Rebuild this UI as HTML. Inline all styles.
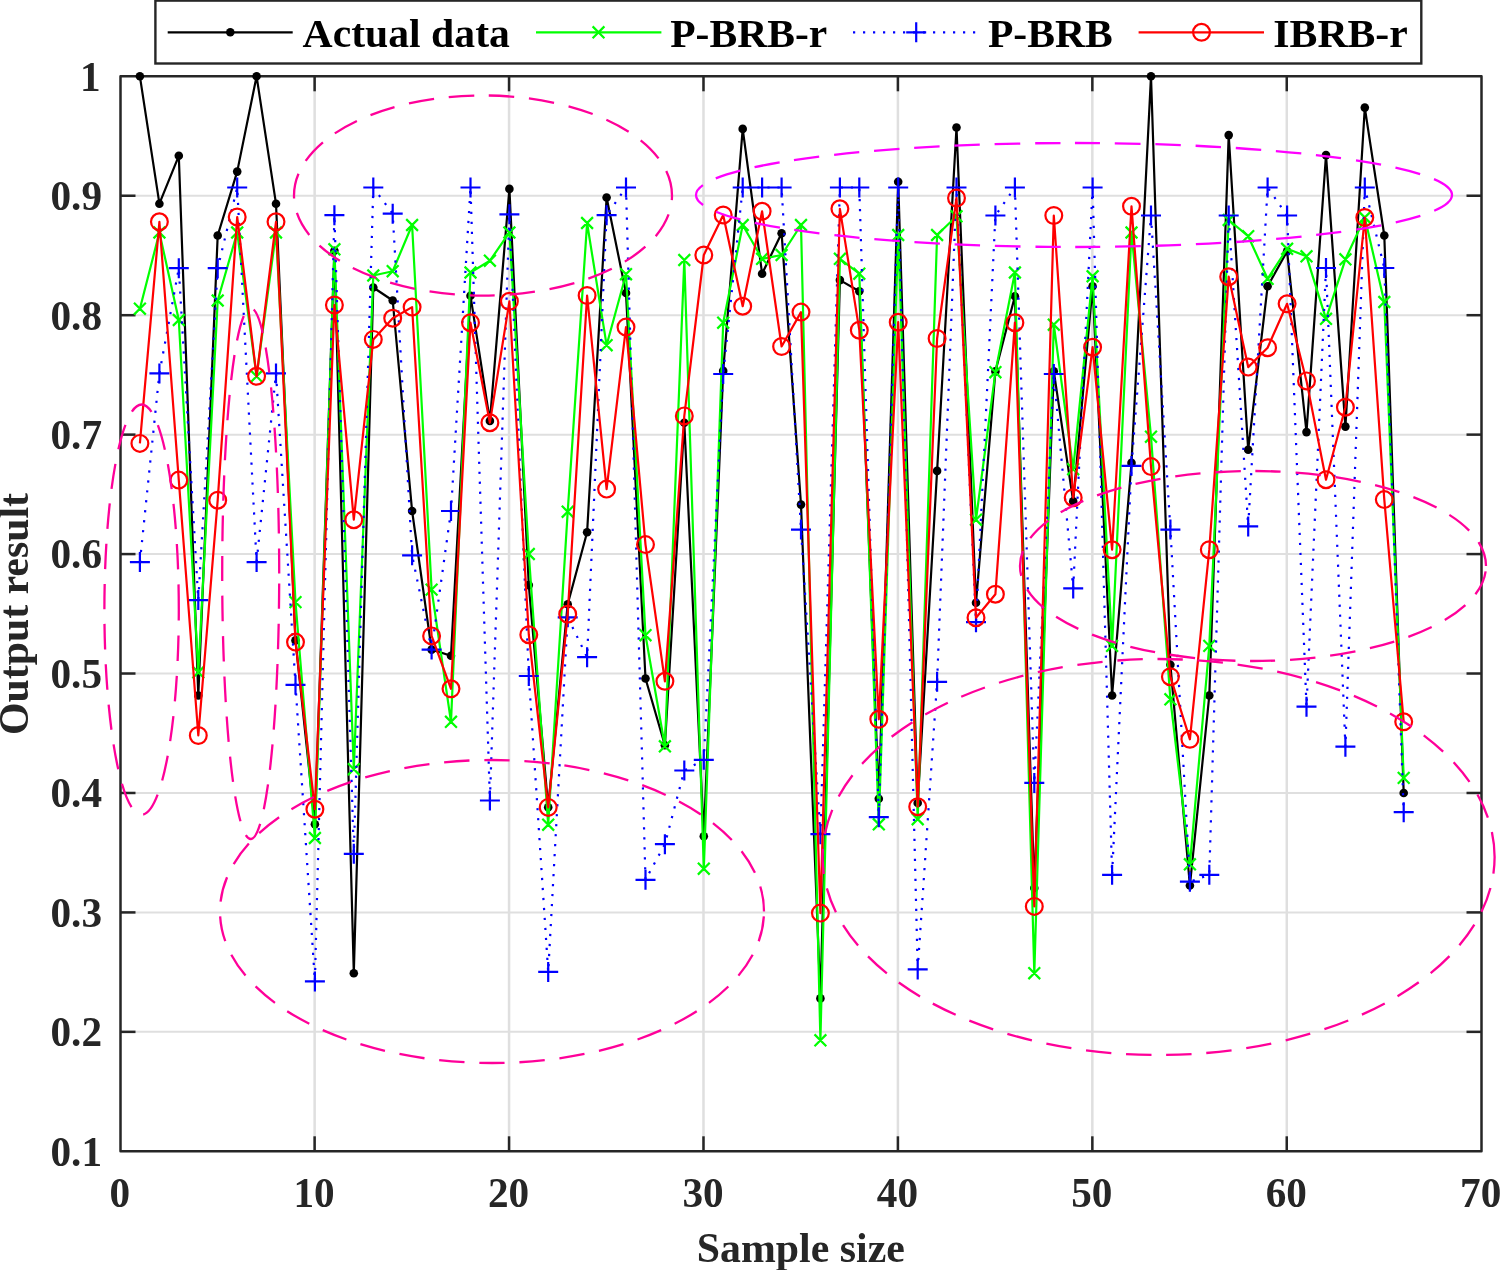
<!DOCTYPE html>
<html lang="en"><head><meta charset="utf-8"><title>Output result vs sample size</title>
<style>html,body{margin:0;padding:0;background:#fff;}body{width:1500px;height:1270px;overflow:hidden;}svg{display:block;}text{font-family:"Liberation Serif",serif;font-weight:bold;}.ax{fill:#262626;font-size:41.2px;}.lg{fill:#000;font-size:40.3px;}</style></head><body>
<svg width="1500" height="1270" viewBox="0 0 1500 1270">
<rect x="0" y="0" width="1500" height="1270" fill="#fff"/>
<g stroke="#dfdfdf" stroke-width="2" fill="none">
<line x1="314.63" y1="76.3" x2="314.63" y2="1151.3" stroke-width="2.5"/>
<line x1="509.06" y1="76.3" x2="509.06" y2="1151.3" stroke-width="2.5"/>
<line x1="703.49" y1="76.3" x2="703.49" y2="1151.3" stroke-width="2.5"/>
<line x1="897.91" y1="76.3" x2="897.91" y2="1151.3" stroke-width="2.5"/>
<line x1="1092.34" y1="76.3" x2="1092.34" y2="1151.3" stroke-width="2.5"/>
<line x1="1286.77" y1="76.3" x2="1286.77" y2="1151.3" stroke-width="2.5"/>
<line x1="120.5" y1="1031.86" x2="1481.5" y2="1031.86"/>
<line x1="120.5" y1="912.41" x2="1481.5" y2="912.41"/>
<line x1="120.5" y1="792.97" x2="1481.5" y2="792.97"/>
<line x1="120.5" y1="673.52" x2="1481.5" y2="673.52"/>
<line x1="120.5" y1="554.08" x2="1481.5" y2="554.08"/>
<line x1="120.5" y1="434.63" x2="1481.5" y2="434.63"/>
<line x1="120.5" y1="315.19" x2="1481.5" y2="315.19"/>
<line x1="120.5" y1="195.74" x2="1481.5" y2="195.74"/>
</g>
<g stroke="#262626" stroke-width="2.5" fill="none" stroke-linejoin="round">
<rect x="120.5" y="76.3" width="1361.0" height="1075.0"/>
<line x1="314.63" y1="1151.3" x2="314.63" y2="1136.3"/>
<line x1="314.63" y1="76.3" x2="314.63" y2="91.3"/>
<line x1="509.06" y1="1151.3" x2="509.06" y2="1136.3"/>
<line x1="509.06" y1="76.3" x2="509.06" y2="91.3"/>
<line x1="703.49" y1="1151.3" x2="703.49" y2="1136.3"/>
<line x1="703.49" y1="76.3" x2="703.49" y2="91.3"/>
<line x1="897.91" y1="1151.3" x2="897.91" y2="1136.3"/>
<line x1="897.91" y1="76.3" x2="897.91" y2="91.3"/>
<line x1="1092.34" y1="1151.3" x2="1092.34" y2="1136.3"/>
<line x1="1092.34" y1="76.3" x2="1092.34" y2="91.3"/>
<line x1="1286.77" y1="1151.3" x2="1286.77" y2="1136.3"/>
<line x1="1286.77" y1="76.3" x2="1286.77" y2="91.3"/>
<line x1="120.5" y1="1031.86" x2="135.5" y2="1031.86"/>
<line x1="1481.5" y1="1031.86" x2="1466.5" y2="1031.86"/>
<line x1="120.5" y1="912.41" x2="135.5" y2="912.41"/>
<line x1="1481.5" y1="912.41" x2="1466.5" y2="912.41"/>
<line x1="120.5" y1="792.97" x2="135.5" y2="792.97"/>
<line x1="1481.5" y1="792.97" x2="1466.5" y2="792.97"/>
<line x1="120.5" y1="673.52" x2="135.5" y2="673.52"/>
<line x1="1481.5" y1="673.52" x2="1466.5" y2="673.52"/>
<line x1="120.5" y1="554.08" x2="135.5" y2="554.08"/>
<line x1="1481.5" y1="554.08" x2="1466.5" y2="554.08"/>
<line x1="120.5" y1="434.63" x2="135.5" y2="434.63"/>
<line x1="1481.5" y1="434.63" x2="1466.5" y2="434.63"/>
<line x1="120.5" y1="315.19" x2="135.5" y2="315.19"/>
<line x1="1481.5" y1="315.19" x2="1466.5" y2="315.19"/>
<line x1="120.5" y1="195.74" x2="135.5" y2="195.74"/>
<line x1="1481.5" y1="195.74" x2="1466.5" y2="195.74"/>
</g>
<g class="ax">
<text x="119.7" y="1206.8" text-anchor="middle">0</text>
<text x="314.1" y="1206.8" text-anchor="middle">10</text>
<text x="508.6" y="1206.8" text-anchor="middle">20</text>
<text x="703.0" y="1206.8" text-anchor="middle">30</text>
<text x="897.4" y="1206.8" text-anchor="middle">40</text>
<text x="1091.8" y="1206.8" text-anchor="middle">50</text>
<text x="1286.3" y="1206.8" text-anchor="middle">60</text>
<text x="1480.7" y="1206.8" text-anchor="middle">70</text>
<text x="102" y="1165.6" text-anchor="end">0.1</text>
<text x="102" y="1046.2" text-anchor="end">0.2</text>
<text x="102" y="926.7" text-anchor="end">0.3</text>
<text x="102" y="807.3" text-anchor="end">0.4</text>
<text x="102" y="687.8" text-anchor="end">0.5</text>
<text x="102" y="568.4" text-anchor="end">0.6</text>
<text x="102" y="448.9" text-anchor="end">0.7</text>
<text x="102" y="329.5" text-anchor="end">0.8</text>
<text x="102" y="210.0" text-anchor="end">0.9</text>
<text x="100.6" y="90.6" text-anchor="end">1</text>
<text x="696.8" y="1261.5" textLength="208" lengthAdjust="spacingAndGlyphs">Sample size</text>
<text transform="translate(27.8,735) rotate(-90)" textLength="242" lengthAdjust="spacingAndGlyphs">Output result</text>
</g>
<g stroke="#000" stroke-width="2.2" fill="none" stroke-linejoin="round">
<polyline points="139.9,76.3 159.4,203.7 178.8,155.8 198.3,695.5 217.7,235.5 237.2,171.6 256.6,76.3 276.0,203.7 295.5,640.4 314.9,824.3 334.4,250.7 353.8,973.2 373.3,287.5 392.7,300.5 412.1,511.0 431.6,649.6 451.0,655.8 470.5,295.8 489.9,420.9 509.4,188.9 528.8,585.1 548.2,807.3 567.7,604.2 587.1,532.2 606.6,197.5 626.0,293.0 645.5,678.5 664.9,745.2 684.3,422.7 703.8,836.2 723.2,370.9 742.7,128.9 762.1,273.7 781.6,233.2 801.0,504.6 820.4,998.4 839.9,280.1 859.3,291.3 878.8,798.7 898.2,181.8 917.7,803.0 937.1,470.9 956.5,127.5 976.0,602.7 995.4,371.4 1014.9,296.3 1034.3,888.0 1053.8,371.3 1073.2,501.4 1092.6,286.3 1112.1,695.5 1131.5,462.9 1151.0,76.3 1170.4,664.8 1189.9,885.5 1209.3,695.5 1228.7,135.1 1248.2,449.7 1267.6,286.3 1287.1,251.3 1306.5,432.1 1326.0,155.1 1345.4,426.6 1364.8,107.6 1384.3,235.5 1403.7,793.0"/>
</g><g fill="#000">
<circle cx="139.9" cy="76.3" r="4.3"/>
<circle cx="159.4" cy="203.7" r="4.3"/>
<circle cx="178.8" cy="155.8" r="4.3"/>
<circle cx="198.3" cy="695.5" r="4.3"/>
<circle cx="217.7" cy="235.5" r="4.3"/>
<circle cx="237.2" cy="171.6" r="4.3"/>
<circle cx="256.6" cy="76.3" r="4.3"/>
<circle cx="276.0" cy="203.7" r="4.3"/>
<circle cx="295.5" cy="640.4" r="4.3"/>
<circle cx="314.9" cy="824.3" r="4.3"/>
<circle cx="334.4" cy="250.7" r="4.3"/>
<circle cx="353.8" cy="973.2" r="4.3"/>
<circle cx="373.3" cy="287.5" r="4.3"/>
<circle cx="392.7" cy="300.5" r="4.3"/>
<circle cx="412.1" cy="511.0" r="4.3"/>
<circle cx="431.6" cy="649.6" r="4.3"/>
<circle cx="451.0" cy="655.8" r="4.3"/>
<circle cx="470.5" cy="295.8" r="4.3"/>
<circle cx="489.9" cy="420.9" r="4.3"/>
<circle cx="509.4" cy="188.9" r="4.3"/>
<circle cx="528.8" cy="585.1" r="4.3"/>
<circle cx="548.2" cy="807.3" r="4.3"/>
<circle cx="567.7" cy="604.2" r="4.3"/>
<circle cx="587.1" cy="532.2" r="4.3"/>
<circle cx="606.6" cy="197.5" r="4.3"/>
<circle cx="626.0" cy="293.0" r="4.3"/>
<circle cx="645.5" cy="678.5" r="4.3"/>
<circle cx="664.9" cy="745.2" r="4.3"/>
<circle cx="684.3" cy="422.7" r="4.3"/>
<circle cx="703.8" cy="836.2" r="4.3"/>
<circle cx="723.2" cy="370.9" r="4.3"/>
<circle cx="742.7" cy="128.9" r="4.3"/>
<circle cx="762.1" cy="273.7" r="4.3"/>
<circle cx="781.6" cy="233.2" r="4.3"/>
<circle cx="801.0" cy="504.6" r="4.3"/>
<circle cx="820.4" cy="998.4" r="4.3"/>
<circle cx="839.9" cy="280.1" r="4.3"/>
<circle cx="859.3" cy="291.3" r="4.3"/>
<circle cx="878.8" cy="798.7" r="4.3"/>
<circle cx="898.2" cy="181.8" r="4.3"/>
<circle cx="917.7" cy="803.0" r="4.3"/>
<circle cx="937.1" cy="470.9" r="4.3"/>
<circle cx="956.5" cy="127.5" r="4.3"/>
<circle cx="976.0" cy="602.7" r="4.3"/>
<circle cx="995.4" cy="371.4" r="4.3"/>
<circle cx="1014.9" cy="296.3" r="4.3"/>
<circle cx="1034.3" cy="888.0" r="4.3"/>
<circle cx="1053.8" cy="371.3" r="4.3"/>
<circle cx="1073.2" cy="501.4" r="4.3"/>
<circle cx="1092.6" cy="286.3" r="4.3"/>
<circle cx="1112.1" cy="695.5" r="4.3"/>
<circle cx="1131.5" cy="462.9" r="4.3"/>
<circle cx="1151.0" cy="76.3" r="4.3"/>
<circle cx="1170.4" cy="664.8" r="4.3"/>
<circle cx="1189.9" cy="885.5" r="4.3"/>
<circle cx="1209.3" cy="695.5" r="4.3"/>
<circle cx="1228.7" cy="135.1" r="4.3"/>
<circle cx="1248.2" cy="449.7" r="4.3"/>
<circle cx="1267.6" cy="286.3" r="4.3"/>
<circle cx="1287.1" cy="251.3" r="4.3"/>
<circle cx="1306.5" cy="432.1" r="4.3"/>
<circle cx="1326.0" cy="155.1" r="4.3"/>
<circle cx="1345.4" cy="426.6" r="4.3"/>
<circle cx="1364.8" cy="107.6" r="4.3"/>
<circle cx="1384.3" cy="235.5" r="4.3"/>
<circle cx="1403.7" cy="793.0" r="4.3"/>
</g>
<g stroke="#00ff00" stroke-width="2.2" fill="none" stroke-linejoin="round">
<polyline points="139.9,308.7 159.4,232.5 178.8,320.0 198.3,672.3 217.7,300.5 237.2,232.5 256.6,376.3 276.0,232.5 295.5,602.1 314.9,838.0 334.4,249.3 353.8,769.2 373.3,275.5 392.7,271.2 412.1,225.0 431.6,589.6 451.0,721.8 470.5,272.5 489.9,260.7 509.4,232.5 528.8,554.0 548.2,824.7 567.7,511.7 587.1,223.0 606.6,345.2 626.0,274.2 645.5,635.2 664.9,746.3 684.3,260.0 703.8,868.7 723.2,322.7 742.7,225.0 762.1,258.8 781.6,255.0 801.0,225.0 820.4,1040.3 839.9,258.8 859.3,273.7 878.8,824.3 898.2,235.0 917.7,819.2 937.1,235.0 956.5,216.3 976.0,519.7 995.4,372.2 1014.9,272.5 1034.3,973.2 1053.8,324.7 1073.2,469.2 1092.6,276.2 1112.1,645.9 1131.5,232.5 1151.0,436.7 1170.4,699.3 1189.9,864.3 1209.3,645.9 1228.7,220.0 1248.2,236.2 1267.6,278.8 1287.1,248.8 1306.5,256.3 1326.0,318.8 1345.4,259.3 1364.8,217.5 1384.3,302.0 1403.7,777.9"/>
<path d="M134.0 302.8L145.8 314.6M134.0 314.6L145.8 302.8M153.5 226.6L165.3 238.4M153.5 238.4L165.3 226.6M172.9 314.1L184.7 325.9M172.9 325.9L184.7 314.1M192.4 666.4L204.2 678.2M192.4 678.2L204.2 666.4M211.8 294.6L223.6 306.4M211.8 306.4L223.6 294.6M231.3 226.6L243.1 238.4M231.3 238.4L243.1 226.6M250.7 370.4L262.5 382.2M250.7 382.2L262.5 370.4M270.1 226.6L281.9 238.4M270.1 238.4L281.9 226.6M289.6 596.2L301.4 608.0M289.6 608.0L301.4 596.2M309.0 832.1L320.8 843.9M309.0 843.9L320.8 832.1M328.5 243.4L340.3 255.2M328.5 255.2L340.3 243.4M347.9 763.3L359.7 775.1M347.9 775.1L359.7 763.3M367.4 269.6L379.2 281.4M367.4 281.4L379.2 269.6M386.8 265.3L398.6 277.1M386.8 277.1L398.6 265.3M406.2 219.1L418.0 230.9M406.2 230.9L418.0 219.1M425.7 583.7L437.5 595.5M425.7 595.5L437.5 583.7M445.1 715.9L456.9 727.7M445.1 727.7L456.9 715.9M464.6 266.6L476.4 278.4M464.6 278.4L476.4 266.6M484.0 254.8L495.8 266.6M484.0 266.6L495.8 254.8M503.5 226.6L515.3 238.4M503.5 238.4L515.3 226.6M522.9 548.1L534.7 559.9M522.9 559.9L534.7 548.1M542.3 818.8L554.1 830.6M542.3 830.6L554.1 818.8M561.8 505.8L573.6 517.6M561.8 517.6L573.6 505.8M581.2 217.1L593.0 228.9M581.2 228.9L593.0 217.1M600.7 339.3L612.5 351.1M600.7 351.1L612.5 339.3M620.1 268.3L631.9 280.1M620.1 280.1L631.9 268.3M639.6 629.3L651.4 641.1M639.6 641.1L651.4 629.3M659.0 740.4L670.8 752.2M659.0 752.2L670.8 740.4M678.4 254.1L690.2 265.9M678.4 265.9L690.2 254.1M697.9 862.8L709.7 874.6M697.9 874.6L709.7 862.8M717.3 316.8L729.1 328.6M717.3 328.6L729.1 316.8M736.8 219.1L748.6 230.9M736.8 230.9L748.6 219.1M756.2 252.9L768.0 264.7M756.2 264.7L768.0 252.9M775.7 249.1L787.5 260.9M775.7 260.9L787.5 249.1M795.1 219.1L806.9 230.9M795.1 230.9L806.9 219.1M814.5 1034.4L826.3 1046.2M814.5 1046.2L826.3 1034.4M834.0 252.9L845.8 264.7M834.0 264.7L845.8 252.9M853.4 267.8L865.2 279.6M853.4 279.6L865.2 267.8M872.9 818.4L884.7 830.2M872.9 830.2L884.7 818.4M892.3 229.1L904.1 240.9M892.3 240.9L904.1 229.1M911.8 813.3L923.6 825.1M911.8 825.1L923.6 813.3M931.2 229.1L943.0 240.9M931.2 240.9L943.0 229.1M950.6 210.4L962.4 222.2M950.6 222.2L962.4 210.4M970.1 513.8L981.9 525.6M970.1 525.6L981.9 513.8M989.5 366.3L1001.3 378.1M989.5 378.1L1001.3 366.3M1009.0 266.6L1020.8 278.4M1009.0 278.4L1020.8 266.6M1028.4 967.3L1040.2 979.1M1028.4 979.1L1040.2 967.3M1047.9 318.8L1059.7 330.6M1047.9 330.6L1059.7 318.8M1067.3 463.3L1079.1 475.1M1067.3 475.1L1079.1 463.3M1086.7 270.4L1098.5 282.1M1086.7 282.1L1098.5 270.4M1106.2 640.0L1118.0 651.8M1106.2 651.8L1118.0 640.0M1125.6 226.6L1137.4 238.4M1125.6 238.4L1137.4 226.6M1145.1 430.8L1156.9 442.6M1145.1 442.6L1156.9 430.8M1164.5 693.4L1176.3 705.2M1164.5 705.2L1176.3 693.4M1184.0 858.4L1195.8 870.2M1184.0 870.2L1195.8 858.4M1203.4 640.0L1215.2 651.8M1203.4 651.8L1215.2 640.0M1222.8 214.1L1234.6 225.9M1222.8 225.9L1234.6 214.1M1242.3 230.3L1254.1 242.1M1242.3 242.1L1254.1 230.3M1261.7 272.9L1273.5 284.7M1261.7 284.7L1273.5 272.9M1281.2 242.9L1293.0 254.7M1281.2 254.7L1293.0 242.9M1300.6 250.4L1312.4 262.2M1300.6 262.2L1312.4 250.4M1320.1 312.9L1331.9 324.7M1320.1 324.7L1331.9 312.9M1339.5 253.4L1351.3 265.2M1339.5 265.2L1351.3 253.4M1358.9 211.6L1370.7 223.4M1358.9 223.4L1370.7 211.6M1378.4 296.1L1390.2 307.9M1378.4 307.9L1390.2 296.1M1397.8 772.0L1409.6 783.8M1397.8 783.8L1409.6 772.0"/>
</g>
<g stroke="#0000ff" stroke-width="2.2" fill="none" stroke-linejoin="round">
<polyline points="139.9,562.1 159.4,373.4 178.8,268.2 198.3,600.1 217.7,268.2 237.2,187.5 256.6,562.1 276.0,373.4 295.5,684.8 314.9,981.4 334.4,215.2 353.8,853.8 373.3,187.5 392.7,213.7 412.1,555.3 431.6,649.6 451.0,511.0 470.5,187.5 489.9,800.5 509.4,214.3 528.8,676.0 548.2,971.9 567.7,617.3 587.1,657.2 606.6,215.2 626.0,187.5 645.5,879.8 664.9,844.2 684.3,770.5 703.8,759.8 723.2,374.0 742.7,187.5 762.1,187.5 781.6,187.5 801.0,529.6 820.4,834.2 839.9,187.5 859.3,187.5 878.8,817.2 898.2,187.5 917.7,969.4 937.1,681.8 956.5,187.5 976.0,622.2 995.4,215.5 1014.9,187.5 1034.3,782.9 1053.8,374.0 1073.2,588.4 1092.6,187.5 1112.1,874.8 1131.5,465.9 1151.0,215.5 1170.4,529.6 1189.9,881.7 1209.3,874.8 1228.7,215.5 1248.2,526.4 1267.6,187.5 1287.1,215.5 1306.5,706.7 1326.0,268.0 1345.4,746.7 1364.8,187.5 1384.3,268.0 1403.7,812.2" stroke-dasharray="2.2 7.8"/>
<path d="M129.9 562.1H149.9M139.9 552.1V572.1M149.4 373.4H169.4M159.4 363.4V383.4M168.8 268.2H188.8M178.8 258.2V278.2M188.3 600.1H208.3M198.3 590.1V610.1M207.7 268.2H227.7M217.7 258.2V278.2M227.2 187.5H247.2M237.2 177.5V197.5M246.6 562.1H266.6M256.6 552.1V572.1M266.0 373.4H286.0M276.0 363.4V383.4M285.5 684.8H305.5M295.5 674.8V694.8M304.9 981.4H324.9M314.9 971.4V991.4M324.4 215.2H344.4M334.4 205.2V225.2M343.8 853.8H363.8M353.8 843.8V863.8M363.3 187.5H383.3M373.3 177.5V197.5M382.7 213.7H402.7M392.7 203.7V223.7M402.1 555.3H422.1M412.1 545.3V565.3M421.6 649.6H441.6M431.6 639.6V659.6M441.0 511.0H461.0M451.0 501.0V521.0M460.5 187.5H480.5M470.5 177.5V197.5M479.9 800.5H499.9M489.9 790.5V810.5M499.4 214.3H519.4M509.4 204.3V224.3M518.8 676.0H538.8M528.8 666.0V686.0M538.2 971.9H558.2M548.2 961.9V981.9M557.7 617.3H577.7M567.7 607.3V627.3M577.1 657.2H597.1M587.1 647.2V667.2M596.6 215.2H616.6M606.6 205.2V225.2M616.0 187.5H636.0M626.0 177.5V197.5M635.5 879.8H655.5M645.5 869.8V889.8M654.9 844.2H674.9M664.9 834.2V854.2M674.3 770.5H694.3M684.3 760.5V780.5M693.8 759.8H713.8M703.8 749.8V769.8M713.2 374.0H733.2M723.2 364.0V384.0M732.7 187.5H752.7M742.7 177.5V197.5M752.1 187.5H772.1M762.1 177.5V197.5M771.6 187.5H791.6M781.6 177.5V197.5M791.0 529.6H811.0M801.0 519.6V539.6M810.4 834.2H830.4M820.4 824.2V844.2M829.9 187.5H849.9M839.9 177.5V197.5M849.3 187.5H869.3M859.3 177.5V197.5M868.8 817.2H888.8M878.8 807.2V827.2M888.2 187.5H908.2M898.2 177.5V197.5M907.7 969.4H927.7M917.7 959.4V979.4M927.1 681.8H947.1M937.1 671.8V691.8M946.5 187.5H966.5M956.5 177.5V197.5M966.0 622.2H986.0M976.0 612.2V632.2M985.4 215.5H1005.4M995.4 205.5V225.5M1004.9 187.5H1024.9M1014.9 177.5V197.5M1024.3 782.9H1044.3M1034.3 772.9V792.9M1043.8 374.0H1063.8M1053.8 364.0V384.0M1063.2 588.4H1083.2M1073.2 578.4V598.4M1082.6 187.5H1102.6M1092.6 177.5V197.5M1102.1 874.8H1122.1M1112.1 864.8V884.8M1121.5 465.9H1141.5M1131.5 455.9V475.9M1141.0 215.5H1161.0M1151.0 205.5V225.5M1160.4 529.6H1180.4M1170.4 519.6V539.6M1179.9 881.7H1199.9M1189.9 871.7V891.7M1199.3 874.8H1219.3M1209.3 864.8V884.8M1218.7 215.5H1238.7M1228.7 205.5V225.5M1238.2 526.4H1258.2M1248.2 516.4V536.4M1257.6 187.5H1277.6M1267.6 177.5V197.5M1277.1 215.5H1297.1M1287.1 205.5V225.5M1296.5 706.7H1316.5M1306.5 696.7V716.7M1316.0 268.0H1336.0M1326.0 258.0V278.0M1335.4 746.7H1355.4M1345.4 736.7V756.7M1354.8 187.5H1374.8M1364.8 177.5V197.5M1374.3 268.0H1394.3M1384.3 258.0V278.0M1393.7 812.2H1413.7M1403.7 802.2V822.2"/>
</g>
<g stroke="#ff0000" stroke-width="2.2" fill="none" stroke-linejoin="round">
<polyline points="139.9,443.4 159.4,221.8 178.8,480.1 198.3,735.5 217.7,500.2 237.2,217.0 256.6,376.3 276.0,221.8 295.5,642.1 314.9,809.2 334.4,305.0 353.8,519.7 373.3,339.4 392.7,318.2 412.1,307.1 431.6,635.9 451.0,688.8 470.5,322.7 489.9,422.7 509.4,301.3 528.8,634.7 548.2,807.4 567.7,614.2 587.1,295.5 606.6,489.1 626.0,327.1 645.5,544.6 664.9,681.3 684.3,415.9 703.8,255.0 723.2,215.0 742.7,306.2 762.1,211.3 781.6,346.5 801.0,312.1 820.4,913.1 839.9,208.8 859.3,330.2 878.8,719.3 898.2,322.2 917.7,806.7 937.1,338.5 956.5,198.0 976.0,617.7 995.4,594.2 1014.9,322.7 1034.3,906.4 1053.8,215.5 1073.2,497.7 1092.6,347.2 1112.1,549.7 1131.5,206.3 1151.0,466.6 1170.4,676.7 1189.9,739.3 1209.3,549.7 1228.7,276.7 1248.2,367.1 1267.6,347.7 1287.1,303.8 1306.5,380.9 1326.0,479.7 1345.4,407.2 1364.8,217.5 1384.3,499.6 1403.7,721.8"/>
<circle cx="139.9" cy="443.4" r="8.4"/>
<circle cx="159.4" cy="221.8" r="8.4"/>
<circle cx="178.8" cy="480.1" r="8.4"/>
<circle cx="198.3" cy="735.5" r="8.4"/>
<circle cx="217.7" cy="500.2" r="8.4"/>
<circle cx="237.2" cy="217.0" r="8.4"/>
<circle cx="256.6" cy="376.3" r="8.4"/>
<circle cx="276.0" cy="221.8" r="8.4"/>
<circle cx="295.5" cy="642.1" r="8.4"/>
<circle cx="314.9" cy="809.2" r="8.4"/>
<circle cx="334.4" cy="305.0" r="8.4"/>
<circle cx="353.8" cy="519.7" r="8.4"/>
<circle cx="373.3" cy="339.4" r="8.4"/>
<circle cx="392.7" cy="318.2" r="8.4"/>
<circle cx="412.1" cy="307.1" r="8.4"/>
<circle cx="431.6" cy="635.9" r="8.4"/>
<circle cx="451.0" cy="688.8" r="8.4"/>
<circle cx="470.5" cy="322.7" r="8.4"/>
<circle cx="489.9" cy="422.7" r="8.4"/>
<circle cx="509.4" cy="301.3" r="8.4"/>
<circle cx="528.8" cy="634.7" r="8.4"/>
<circle cx="548.2" cy="807.4" r="8.4"/>
<circle cx="567.7" cy="614.2" r="8.4"/>
<circle cx="587.1" cy="295.5" r="8.4"/>
<circle cx="606.6" cy="489.1" r="8.4"/>
<circle cx="626.0" cy="327.1" r="8.4"/>
<circle cx="645.5" cy="544.6" r="8.4"/>
<circle cx="664.9" cy="681.3" r="8.4"/>
<circle cx="684.3" cy="415.9" r="8.4"/>
<circle cx="703.8" cy="255.0" r="8.4"/>
<circle cx="723.2" cy="215.0" r="8.4"/>
<circle cx="742.7" cy="306.2" r="8.4"/>
<circle cx="762.1" cy="211.3" r="8.4"/>
<circle cx="781.6" cy="346.5" r="8.4"/>
<circle cx="801.0" cy="312.1" r="8.4"/>
<circle cx="820.4" cy="913.1" r="8.4"/>
<circle cx="839.9" cy="208.8" r="8.4"/>
<circle cx="859.3" cy="330.2" r="8.4"/>
<circle cx="878.8" cy="719.3" r="8.4"/>
<circle cx="898.2" cy="322.2" r="8.4"/>
<circle cx="917.7" cy="806.7" r="8.4"/>
<circle cx="937.1" cy="338.5" r="8.4"/>
<circle cx="956.5" cy="198.0" r="8.4"/>
<circle cx="976.0" cy="617.7" r="8.4"/>
<circle cx="995.4" cy="594.2" r="8.4"/>
<circle cx="1014.9" cy="322.7" r="8.4"/>
<circle cx="1034.3" cy="906.4" r="8.4"/>
<circle cx="1053.8" cy="215.5" r="8.4"/>
<circle cx="1073.2" cy="497.7" r="8.4"/>
<circle cx="1092.6" cy="347.2" r="8.4"/>
<circle cx="1112.1" cy="549.7" r="8.4"/>
<circle cx="1131.5" cy="206.3" r="8.4"/>
<circle cx="1151.0" cy="466.6" r="8.4"/>
<circle cx="1170.4" cy="676.7" r="8.4"/>
<circle cx="1189.9" cy="739.3" r="8.4"/>
<circle cx="1209.3" cy="549.7" r="8.4"/>
<circle cx="1228.7" cy="276.7" r="8.4"/>
<circle cx="1248.2" cy="367.1" r="8.4"/>
<circle cx="1267.6" cy="347.7" r="8.4"/>
<circle cx="1287.1" cy="303.8" r="8.4"/>
<circle cx="1306.5" cy="380.9" r="8.4"/>
<circle cx="1326.0" cy="479.7" r="8.4"/>
<circle cx="1345.4" cy="407.2" r="8.4"/>
<circle cx="1364.8" cy="217.5" r="8.4"/>
<circle cx="1384.3" cy="499.6" r="8.4"/>
<circle cx="1403.7" cy="721.8" r="8.4"/>
</g>
<g fill="none" stroke-width="2.3" stroke-dasharray="25.4 14.8">
<path d="M672.0 195.5A189 100 0 1 0 294.0 195.5A189 100 0 1 0 672.0 195.5" stroke="#ff0099"/>
<path d="M1452.0 195.0A378 52 0 1 0 696.0 195.0A378 52 0 1 0 1452.0 195.0" stroke="#ff00ff"/>
<path d="M178.8 609.6A37.2 205 0 1 0 104.4 609.6A37.2 205 0 1 0 178.8 609.6" stroke="#ff0099"/>
<path d="M279.2 573.5A28.5 265.5 0 1 0 222.2 573.5A28.5 265.5 0 1 0 279.2 573.5" stroke="#ff0099"/>
<path d="M764.0 911.5A272 151.5 0 1 0 220.0 911.5A272 151.5 0 1 0 764.0 911.5" stroke="#ff0099"/>
<path d="M1486.0 566.0A233 95 0 1 0 1020.0 566.0A233 95 0 1 0 1486.0 566.0" stroke="#ff0099"/>
<path d="M1494.6 857.0A336 198 0 1 0 822.6 857.0A336 198 0 1 0 1494.6 857.0" stroke="#ff0099"/>
</g>
<rect x="155.4" y="0.6" width="1265.9" height="62.9" fill="#fff" stroke="#262626" stroke-width="2.4"/>
<g stroke-width="2.2" fill="none">
<line x1="167.7" y1="32.3" x2="292.7" y2="32.3" stroke="#000"/>
<circle cx="230.3" cy="32.3" r="4.3" fill="#000" stroke="none"/>
<line x1="536" y1="32.3" x2="661.4" y2="32.3" stroke="#00ff00"/>
<path d="M592.6 26.4L604.4 38.199999999999996M592.6 38.199999999999996L604.4 26.4" stroke="#00ff00"/>
<line x1="853" y1="32.3" x2="976" y2="32.3" stroke="#0000ff" stroke-dasharray="2.2 7.8"/>
<path d="M906.2 32.3H926.2M916.2 22.299999999999997V42.3" stroke="#0000ff"/>
<line x1="1138.6" y1="32.3" x2="1264" y2="32.3" stroke="#ff0000"/>
<circle cx="1201.5" cy="32.3" r="8.4" stroke="#ff0000"/>
</g>
<g class="lg">
<text x="302.6" y="46.5" textLength="207.3" lengthAdjust="spacingAndGlyphs">Actual data</text>
<text x="670.2" y="46.5" textLength="157" lengthAdjust="spacingAndGlyphs">P-BRB-r</text>
<text x="987.9" y="46.5" textLength="124.8" lengthAdjust="spacingAndGlyphs">P-BRB</text>
<text x="1273.3" y="46.5" textLength="134.5" lengthAdjust="spacingAndGlyphs">IBRB-r</text>
</g>
</svg></body></html>
